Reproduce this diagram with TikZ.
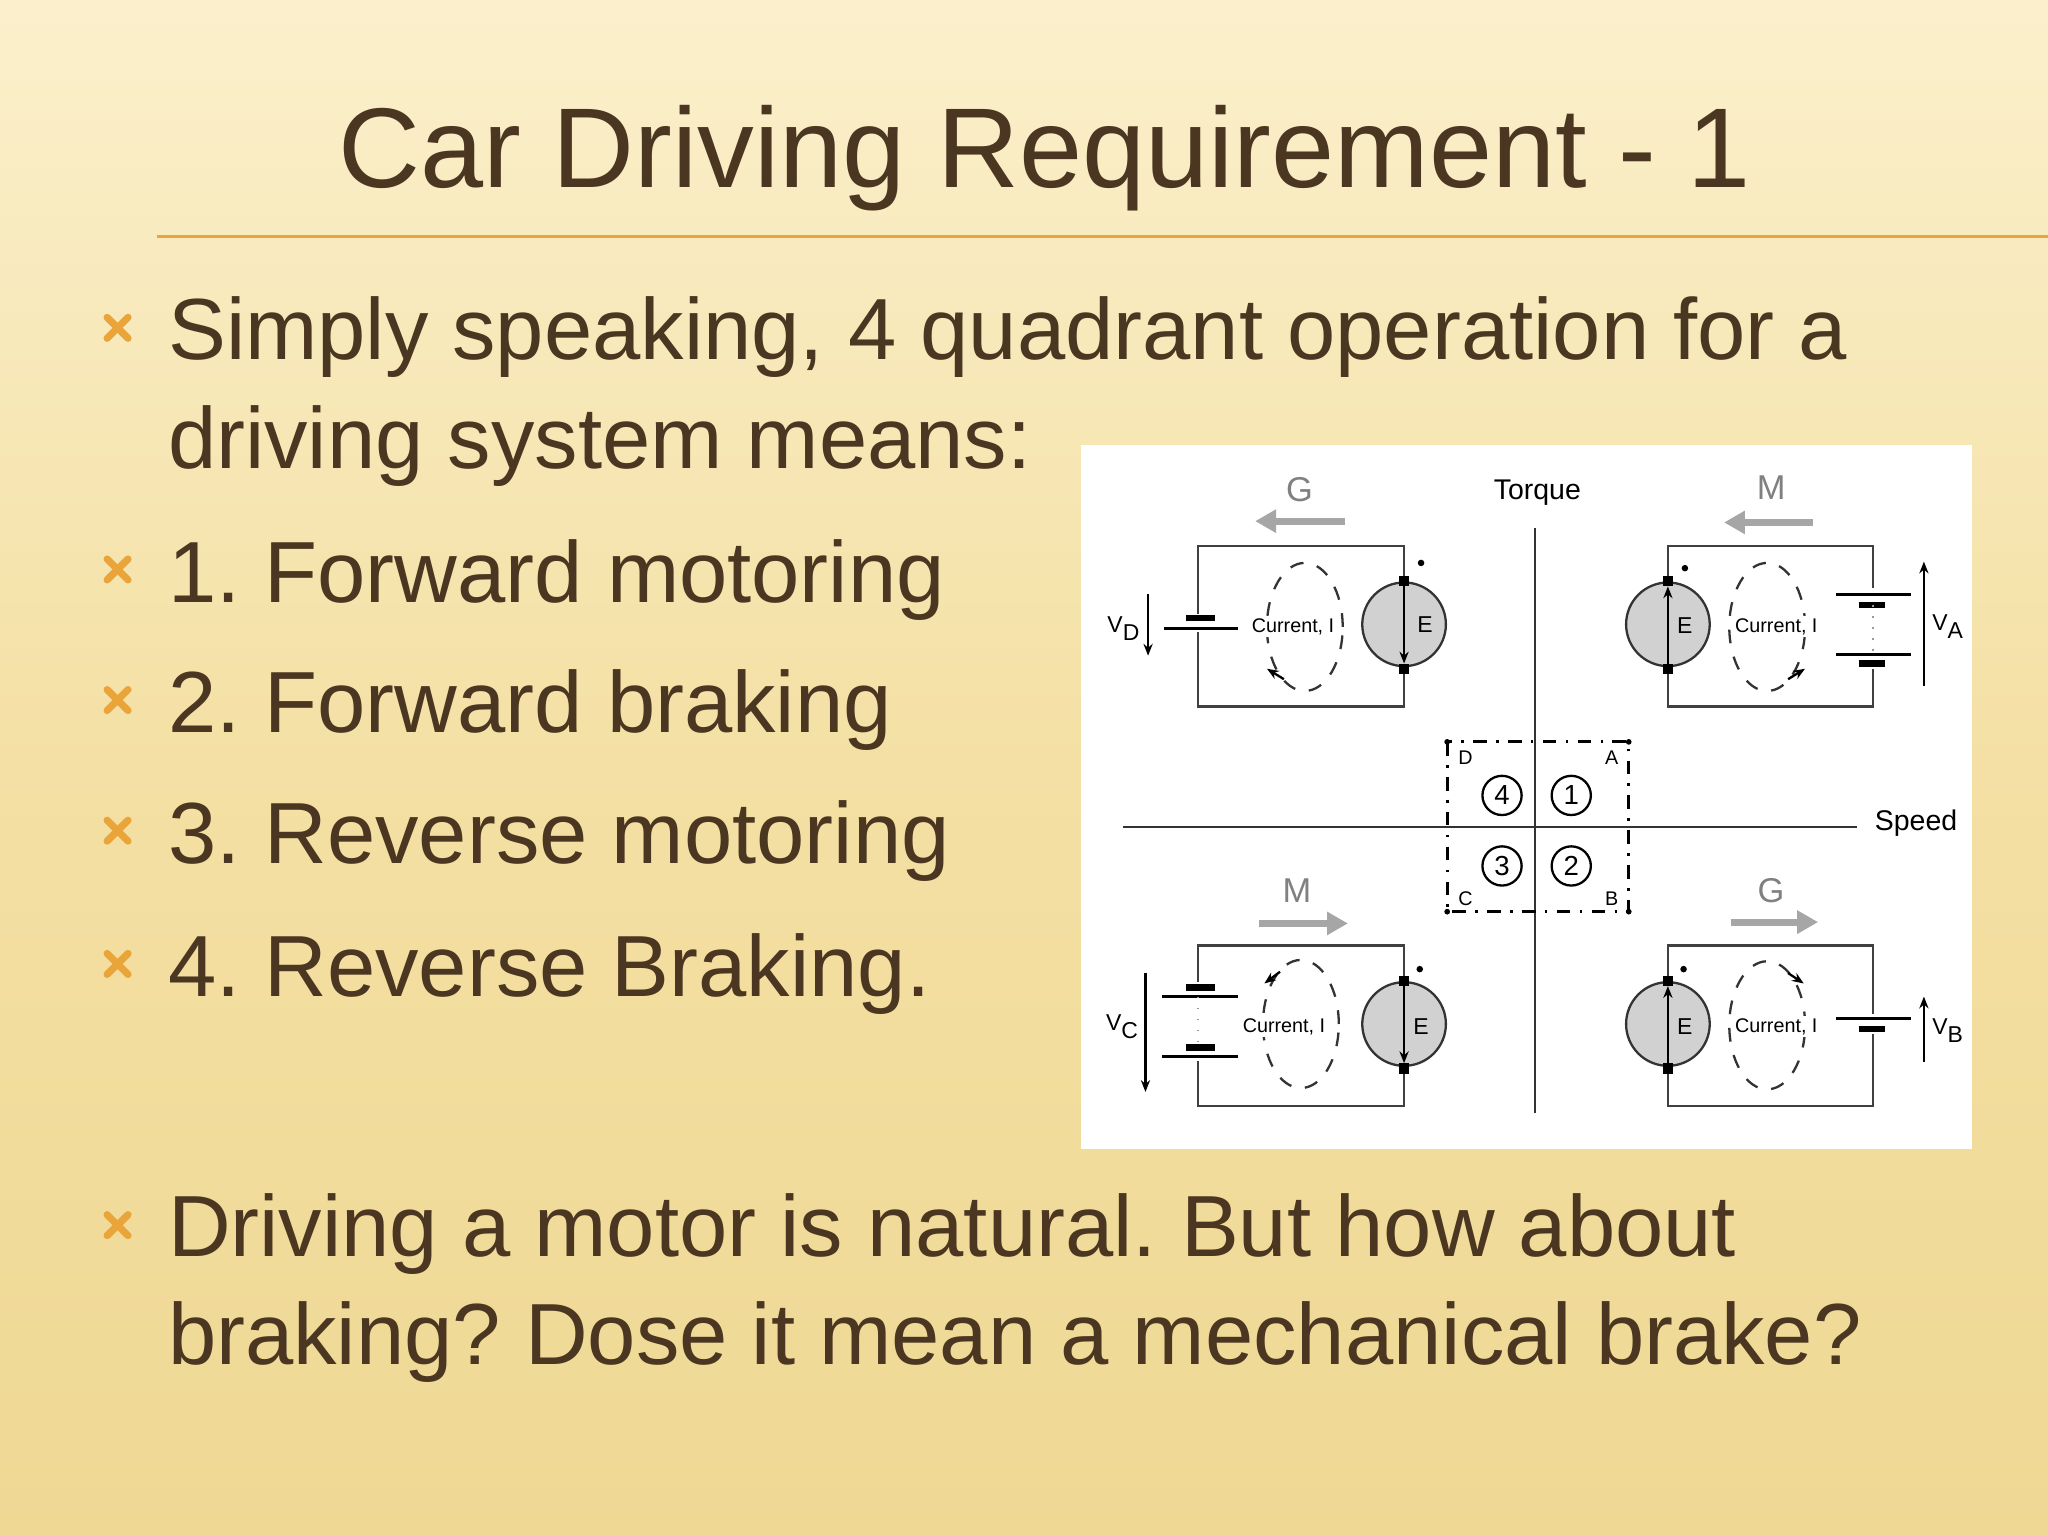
\documentclass[tikz,border=0pt]{standalone}
\usepackage{fontspec}
\setmainfont{Liberation Sans}
\usetikzlibrary{arrows.meta,shapes.geometric}
\definecolor{txt}{HTML}{4B3621}
\definecolor{org}{HTML}{E9A43A}
\definecolor{bgt}{HTML}{FBF0CC}
\definecolor{bgm}{HTML}{F4E0A4}
\definecolor{bgb}{HTML}{EFD894}
\frenchspacing
\begin{document}
\begin{tikzpicture}[x=0.01cm,y=-0.01cm,
  body/.style={anchor=base west,text=txt,font=\fontsize{18.9}{23}\selectfont,inner sep=0},
  wire/.style={line width=0.5pt,black!75},
  sm/.style={font=\fontsize{4.3}{5}\selectfont,inner sep=0},
  mot/.style={circle,draw=black!80,fill=black!18,minimum size=0.64cm,inner sep=0,line width=0.5pt},
  loop/.style={ellipse,draw=black!80,dashed,line width=0.5pt,minimum width=0.58cm,minimum height=0.98cm,inner sep=0},
  la/.style={-{Stealth[length=0.09cm,width=0.07cm]},line width=0.5pt},
  big/.style={line width=0.055cm,black!35,-{Triangle[length=0.16cm,width=0.17cm]}},
  num/.style={circle,draw,line width=0.5pt,minimum size=0.3cm,inner sep=0,font=\fontsize{6}{7}\selectfont},
  corner/.style={font=\fontsize{4.3}{5}\selectfont,inner sep=0},
  bul/.style={line width=0.055cm,org,line cap=round}]
\shade[top color=bgt, bottom color=bgb, middle color=bgm] (0,0) rectangle (1568,1176);
\useasboundingbox (0,0) rectangle (1568,1176);
% title
\node[text=txt,font=\fontsize{24.7}{28}\selectfont,inner sep=0] (title) at (800,121) {Car Driving Requirement - 1};
\draw[org,line width=0.8pt] (120,181) -- (1568,181);
% bullets
\foreach \yy in {253,438,538,638,740,940}{
  \draw[bul] (82,\yy-10) -- (98,\yy+6); \draw[bul] (98,\yy-10) -- (82,\yy+6);}
\node[body] (t1) at (128,275) {Simply speaking, 4 quadrant operation for a};
\node[body] (t2) at (128,359) {driving system means:};
\node[body] (t3) at (128,461) {1. Forward motoring};
\node[body] (t4) at (128,561) {2. Forward braking};
\node[body] (t5) at (128,661) {3. Reverse motoring};
\node[body] (t6) at (128,763) {4. Reverse Braking.};
\node[body] (t7) at (128,962) {Driving a motor is natural. But how about};
\node[body] (t8) at (128,1045) {braking? Dose it mean a mechanical brake?};
% panel
\fill[white] (828,341) rectangle (1510,880);
% axes
\coordinate (tt) at (1175,404); \coordinate (tb) at (1175,852);
\coordinate (sl) at (860,633); \coordinate (sr) at (1422,633);
\draw[line width=0.4pt,black!80] (tt) -- (tb);
\draw[line width=0.4pt,black!80] (sl) -- (sr);
\node[font=\fontsize{6.2}{7}\selectfont,inner sep=0] (torq) at (1177,377) {Torque};
\node[font=\fontsize{6.2}{7}\selectfont,inner sep=0] (spd) at (1467,630) {Speed};
% center box
\draw[line width=0.6pt,dash dot] (1108,568) rectangle (1247,698);
\foreach \p in {(1108,568),(1247,568),(1108,698),(1247,698)} \fill \p circle (2.2);
\node[corner] (cD) at (1122,580) {D};
\node[corner] (cA) at (1234,580) {A};
\node[corner] (cC) at (1122,688) {C};
\node[corner] (cB) at (1234,688) {B};
\node[num] (n4) at (1150,609) {4};
\node[num] (n1) at (1203,609) {1};
\node[num] (n3) at (1150,663) {3};
\node[num] (n2) at (1203,663) {2};
% ===== top-left (G)
\draw[wire] (917,418) rectangle (1075,541);
\fill[white] (910,470) rectangle (950,484);
\draw[line width=0.7pt] (891,481) -- (948,481);
\draw[line width=1.4pt] (908,473) -- (930,473);
\node[mot] (m1) at (1075,478) {};
\fill (1071,441) rectangle (1079,449); \fill (1071,508) rectangle (1079,516);
\draw[la] (1075,449) -- (1075,508);
\node[sm,font=\fontsize{5}{6}\selectfont] (e1) at (1091,478) {E};
\fill (1088,431) circle (2.5);
\node[loop] (l1) at (999,480) {};
\draw[la] (983,520) -- (970,512);
\node[sm,fill=white,inner sep=0.5pt] (c1) at (990,480) {Current, I};
\draw[la] (879,455) -- (879,502);
\node[sm,font=\fontsize{5}{6}\selectfont] (vd) at (861,481) {V\textsubscript{D}};
\draw[big] (1030,399) -- (961,399);
\node[font=\fontsize{7.5}{9}\selectfont,text=black!50,inner sep=0] (g1) at (995,375) {G};
% ===== top-right (M)
\draw[wire] (1277,418) rectangle (1434,541);
\fill[white] (1420,450) rectangle (1450,512);
\draw[line width=0.7pt] (1406,455) -- (1463,455);
\draw[line width=1.4pt] (1423,463) -- (1443,463);
\draw[line width=0.7pt] (1406,501) -- (1463,501);
\draw[line width=1.4pt] (1423,508) -- (1443,508);
\draw[black!40,line width=0.4pt,dotted] (1434,463) -- (1434,501);
\node[mot] (m2) at (1277,478) {};
\fill (1273,441) rectangle (1281,449); \fill (1273,508) rectangle (1281,516);
\draw[la] (1277,508) -- (1277,449);
\node[sm,font=\fontsize{5}{6}\selectfont] (e2) at (1290,479) {E};
\fill (1290,435) circle (2.5);
\node[loop] (l2) at (1353,480) {};
\draw[la] (1369,520) -- (1382,512);
\node[sm,fill=white,inner sep=0.5pt] (c2) at (1360,480) {Current, I};
\draw[la] (1473,525) -- (1473,430);
\node[sm,font=\fontsize{5}{6}\selectfont] (va) at (1492,480) {V\textsubscript{A}};
\draw[big] (1388,400) -- (1320,400);
\node[font=\fontsize{7.5}{9}\selectfont,text=black!50,inner sep=0] (g2) at (1356,373) {M};
% ===== bottom-left (M)
\draw[wire] (917,724) rectangle (1075,847);
\fill[white] (910,752) rectangle (950,812);
\draw[line width=1.4pt] (908,756) -- (930,756);
\draw[line width=0.7pt] (890,763) -- (948,763);
\draw[line width=1.4pt] (908,802) -- (930,802);
\draw[line width=0.7pt] (890,809) -- (948,809);
\draw[black!40,line width=0.4pt,dotted] (917,763) -- (917,802);
\node[mot] (m3) at (1075,784) {};
\fill (1071,747) rectangle (1079,755); \fill (1071,814) rectangle (1079,822);
\draw[la] (1075,755) -- (1075,814);
\node[sm,font=\fontsize{5}{6}\selectfont] (e3) at (1088,786) {E};
\fill (1087,742) circle (2.5);
\node[loop] (l3) at (996,784) {};
\draw[la] (980,744) -- (968,753);
\node[sm,fill=white,inner sep=0.5pt] (c3) at (983,786) {Current, I};
\draw[la] (877,745) -- (877,836);
\node[sm,font=\fontsize{5}{6}\selectfont] (vc) at (860,786) {V\textsubscript{C}};
\draw[big] (964,707) -- (1032,707);
\node[font=\fontsize{7.5}{9}\selectfont,text=black!50,inner sep=0] (g3) at (993,682) {M};
% ===== bottom-right (G)
\draw[wire] (1277,724) rectangle (1434,847);
\fill[white] (1420,776) rectangle (1450,792);
\draw[line width=0.7pt] (1406,780) -- (1463,780);
\draw[line width=1.4pt] (1423,788) -- (1443,788);
\node[mot] (m4) at (1277,784) {};
\fill (1273,747) rectangle (1281,755); \fill (1273,814) rectangle (1281,822);
\draw[la] (1277,814) -- (1277,755);
\node[sm,font=\fontsize{5}{6}\selectfont] (e4) at (1290,786) {E};
\fill (1289,742) circle (2.5);
\node[loop] (l4) at (1353,785) {};
\draw[la] (1369,745) -- (1381,753);
\node[sm,fill=white,inner sep=0.5pt] (c4) at (1360,786) {Current, I};
\draw[la] (1473,813) -- (1473,763);
\node[sm,font=\fontsize{5}{6}\selectfont] (vb) at (1492,789) {V\textsubscript{B}};
\draw[big] (1325,706) -- (1392,706);
\node[font=\fontsize{7.5}{9}\selectfont,text=black!50,inner sep=0] (g4) at (1356,682) {G};
\end{tikzpicture}
\end{document}
